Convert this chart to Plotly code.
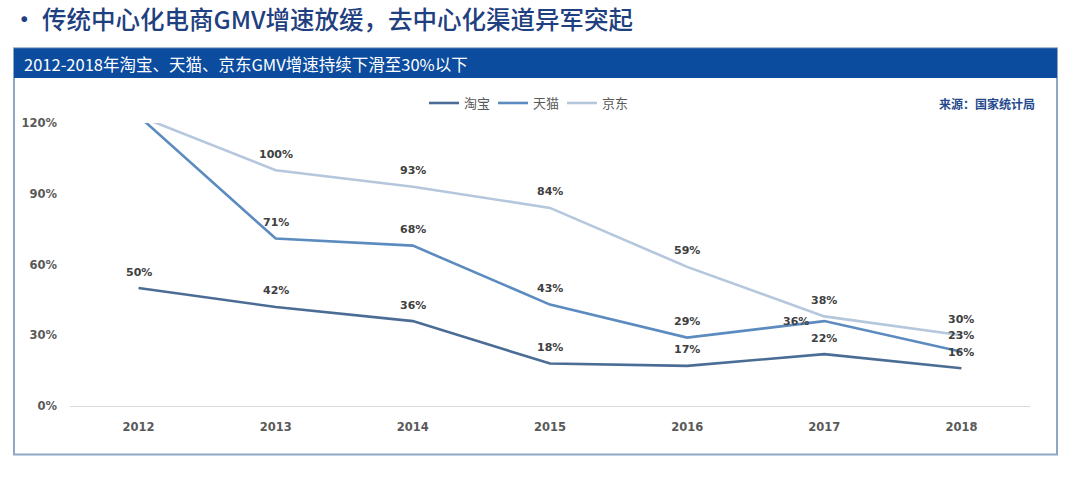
import plotly.graph_objects as go

# ---------------- data ----------------
years = ["2012", "2013", "2014", "2015", "2016", "2017", "2018"]
taobao = [50, 42, 36, 18, 17, 22, 16]
tmall = [123, 71, 68, 43, 29, 36, 23]
jd = [123, 100, 93, 84, 59, 38, 30]
series_names = ["淘宝", "天猫", "京东"]
y_ticks = [0, 30, 60, 90, 120]
y_tick_text = ["0%", "30%", "60%", "90%", "120%"]

title_text = "· 传统中心化电商GMV增速放缓，去中心化渠道异军突起"
banner_text = "2012-2018年淘宝、天猫、京东GMV增速持续下滑至30%以下"
source_text = "来源：国家统计局"

# ---------------- style ----------------
W, H = 1080, 481
L, R, T, B = 70, 50, 123, 74.5
PW, PH = W - L - R, H - T - B
colors = ["#4B6D95", "#5B8BBF", "#B5C7DC"]
label_color = "#404040"
tick_color = "#595959"
cjk = "Noto Sans CJK SC"
latin_bold = "DejaVu Sans"
# special label offsets (pixels) for crowded points
label_shift = {("天猫", "2017"): (-28, 0)}


def px(xp):
    return (xp - L) / PW


def py(yp):
    return (H - B - yp) / PH


fig = go.Figure()
all_series = [taobao, tmall, jd]
for name, vals, col in zip(series_names, all_series, colors):
    fig.add_trace(go.Scatter(
        x=years, y=vals, name=name, mode="lines",
        line=dict(color=col, width=2.6),
        hoverinfo="skip",
    ))

# data labels (category index used as x position on the category axis)
for name, vals in zip(series_names, all_series):
    for i, (yr, v) in enumerate(zip(years, vals)):
        if v > 120:
            continue
        dx, dy = label_shift.get((name, yr), (0, 16))
        fig.add_annotation(
            x=i, y=v, xref="x", yref="y", text=f"{v}%", showarrow=False,
            xshift=dx, yshift=dy,
            font=dict(family=latin_bold, size=11, color=label_color, weight="bold"),
        )

shapes = [
    # chart box
    dict(type="rect", xref="paper", yref="paper",
         x0=px(14), x1=px(1057), y0=py(455), y1=py(48),
         line=dict(color="#8EA7C2", width=2), fillcolor="rgba(0,0,0,0)", layer="below"),
    # banner
    dict(type="rect", xref="paper", yref="paper",
         x0=px(14), x1=px(1057), y0=py(78), y1=py(48),
         line=dict(width=0), fillcolor="#0B4C9E", layer="below"),
]

annotations = [
    dict(xref="paper", yref="paper", x=px(10), y=py(18), xanchor="left", yanchor="middle",
         text=title_text, showarrow=False,
         font=dict(family=cjk, size=24.5, color="#1F4080", weight=500)),
    dict(xref="paper", yref="paper", x=px(22), y=py(63.5), xanchor="left", yanchor="middle",
         text=banner_text, showarrow=False,
         font=dict(family=cjk, size=16.5, color="white", weight="normal")),
    dict(xref="paper", yref="paper", x=px(1037), y=py(103), xanchor="right", yanchor="middle",
         text=source_text, showarrow=False,
         font=dict(family=cjk, size=12, color="#244A8C", weight="bold")),
]
for a in annotations:
    fig.add_annotation(**a)

fig.update_layout(
    width=W, height=H,
    margin=dict(l=L, r=R, t=T, b=B, autoexpand=False),
    paper_bgcolor="white", plot_bgcolor="white",
    shapes=shapes,
    showlegend=True,
    legend=dict(orientation="h", x=px(424), y=py(103), xanchor="left", yanchor="middle",
                font=dict(family=cjk, size=13, color=tick_color),
                bgcolor="rgba(0,0,0,0)", itemwidth=30, tracegroupgap=0,
                entrywidth=24, entrywidthmode="pixels"),
    xaxis=dict(type="category", range=[-0.5, 6.5], showgrid=False, zeroline=False,
               showline=True, linecolor="#D9D9D9", linewidth=1, ticks="",
               tickfont=dict(family=latin_bold, size=11.5, color=tick_color, weight="bold"),
               ticklabelstandoff=10, fixedrange=True),
    yaxis=dict(range=[0, 120], tickvals=y_ticks, ticktext=y_tick_text, showgrid=False,
               zeroline=False, showline=False, ticks="",
               tickfont=dict(family=latin_bold, size=11.5, color=tick_color, weight="bold"),
               ticklabelstandoff=12, fixedrange=True),
)

fig.write_html("out.html")
